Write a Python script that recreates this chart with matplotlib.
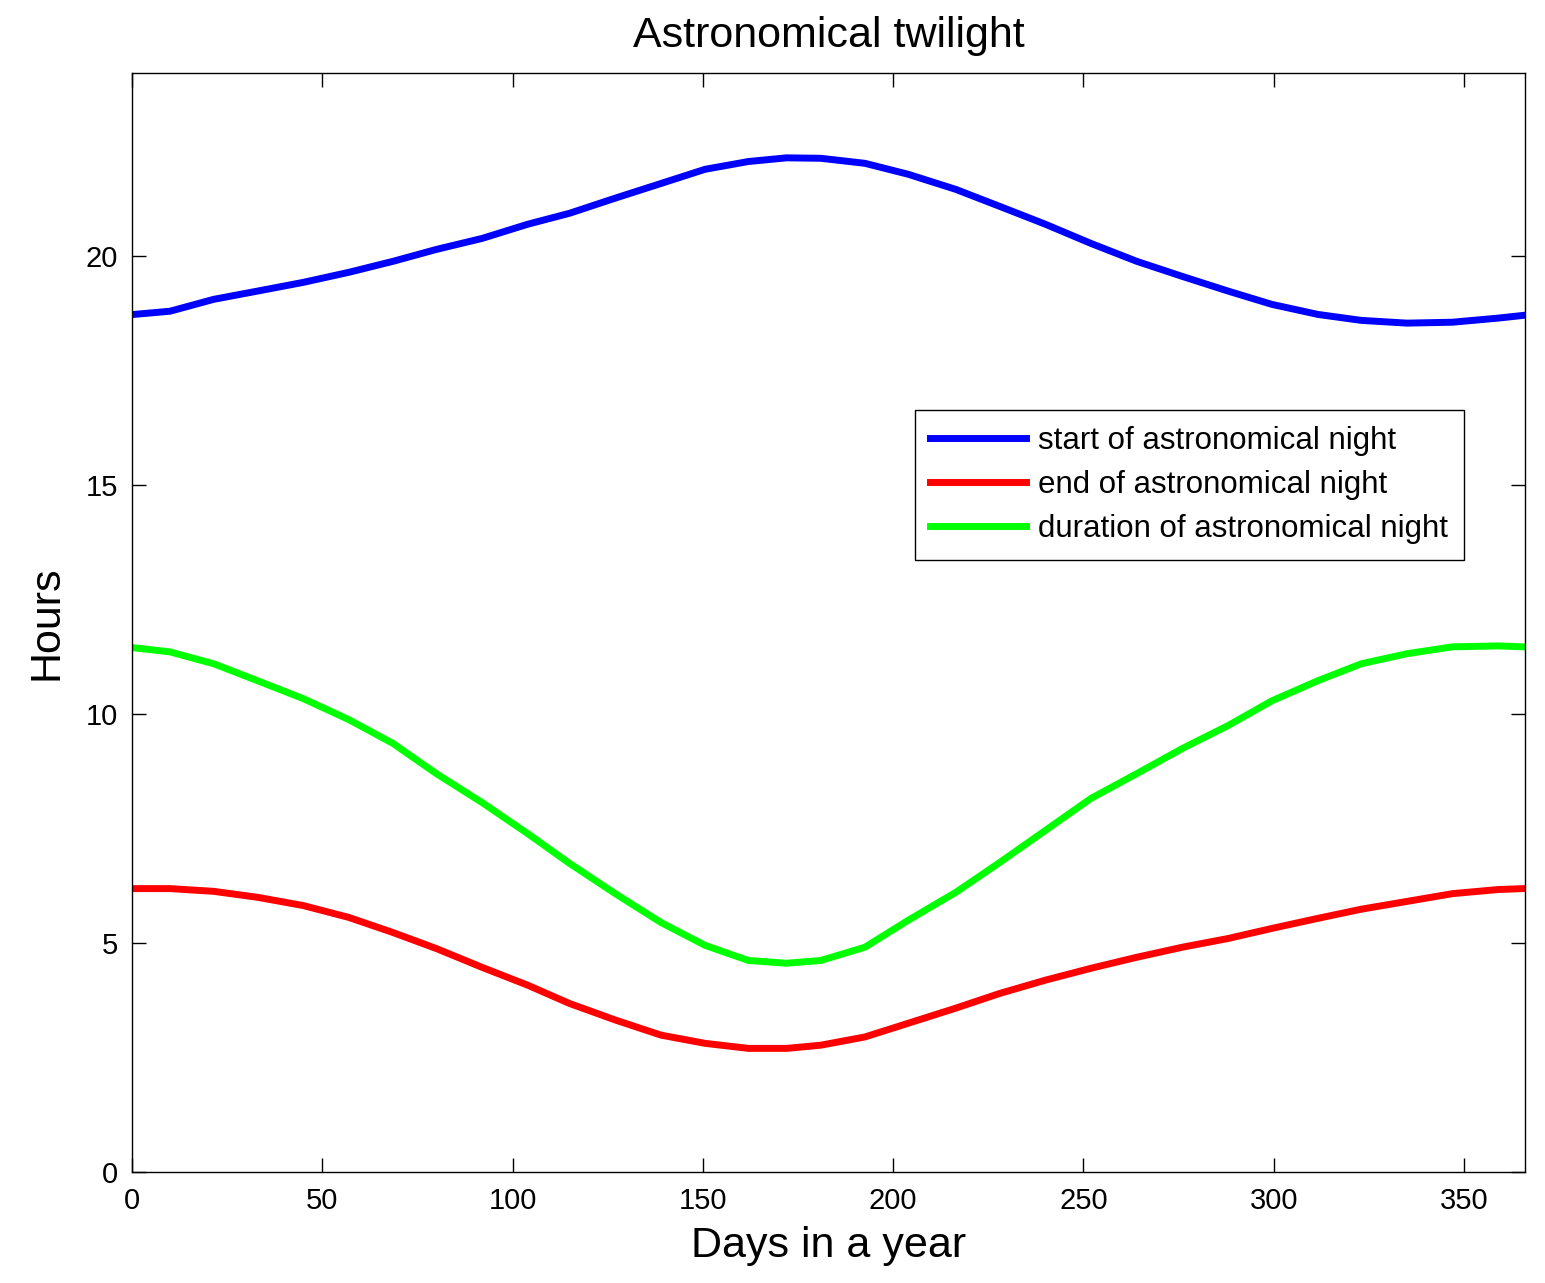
import numpy as np
import matplotlib.pyplot as plt

plt.rcParams['font.family'] = ['Liberation Sans', 'DejaVu Sans']

# values (day of year -> hours)
days = [0.5, 10, 21.5, 33, 45, 57, 68.6, 80, 92, 104, 115, 127, 139, 150.6, 162,
        172, 181, 192.6, 204, 216.5, 228, 240, 252, 264, 276, 288, 299.5, 311.6,
        323, 335, 347, 359, 365.7]

start_night = [18.73, 18.80, 19.06, 19.24, 19.43, 19.65, 19.89, 20.15, 20.39, 20.70,
               20.94, 21.27, 21.59, 21.90, 22.07, 22.15, 22.14, 22.03, 21.79, 21.46,
               21.09, 20.70, 20.28, 19.89, 19.56, 19.24, 18.95, 18.73, 18.60, 18.54,
               18.56, 18.65, 18.71]

end_night = [6.19, 6.19, 6.13, 6.00, 5.82, 5.56, 5.23, 4.88, 4.47, 4.08, 3.68, 3.32,
             2.99, 2.81, 2.70, 2.70, 2.77, 2.95, 3.25, 3.58, 3.90, 4.19, 4.45, 4.69,
             4.91, 5.10, 5.32, 5.54, 5.74, 5.91, 6.08, 6.17, 6.19]

duration_night = [11.45, 11.36, 11.10, 10.73, 10.34, 9.88, 9.36, 8.70, 8.07, 7.39,
                  6.74, 6.08, 5.45, 4.95, 4.62, 4.56, 4.62, 4.91, 5.50, 6.11, 6.76,
                  7.46, 8.16, 8.70, 9.25, 9.75, 10.29, 10.73, 11.10, 11.32, 11.47,
                  11.49, 11.47]

labels = ['start of astronomical night', 'end of astronomical night',
          'duration of astronomical night']

fig = plt.figure(figsize=(15.45, 12.83), dpi=100)
ax = fig.add_axes([0.0854, 0.0865, 0.9016, 0.8565])

ax.plot(days, start_night, color=(0, 0, 1), lw=5, label=labels[0])
ax.plot(days, end_night, color=(1, 0, 0), lw=5, label=labels[1])
ax.plot(days, duration_night, color=(0, 1, 0), lw=5, label=labels[2])

ax.set_xlim(0, 366)
ax.set_ylim(0, 24)
ax.set_xticks(np.arange(0, 351, 50))
ax.set_yticks(np.arange(0, 21, 5))
ax.tick_params(direction='in', length=10, width=1, top=True, right=True,
               labelsize=21)
ax.tick_params(axis='x', pad=11)
ax.tick_params(axis='y', pad=10)
for s in ax.spines.values():
    s.set_linewidth(1)

ax.set_title('Astronomical twilight', fontsize=31, pad=19)
ax.set_xlabel('Days in a year', fontsize=31, labelpad=8)
ax.set_ylabel('Hours', fontsize=31, labelpad=14)

leg = ax.legend(loc='upper left', bbox_to_anchor=(0.562, 0.693), borderaxespad=0,
                fontsize=22.5, fancybox=False, edgecolor='black', framealpha=1,
                handlelength=3.05, handletextpad=0.4, borderpad=0.5,
                labelspacing=0.45)
leg.get_frame().set_linewidth(1)

fig.savefig('out.png', dpi=100)
